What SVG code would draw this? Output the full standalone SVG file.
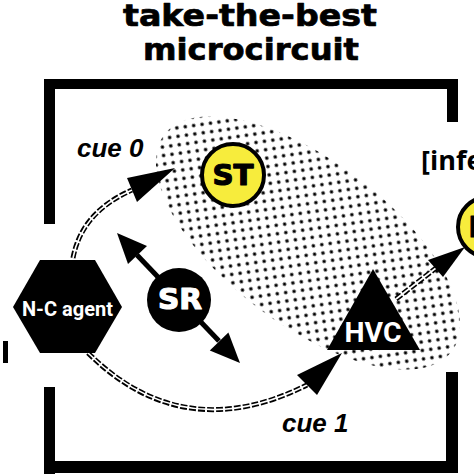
<svg xmlns="http://www.w3.org/2000/svg" width="474" height="474" viewBox="0 0 474 474">
  <defs>
    <pattern id="dots" width="12" height="12" patternUnits="userSpaceOnUse">
      <circle cx="2" cy="2" r="1.8" fill="#000"/>
      <circle cx="8" cy="8" r="1.8" fill="#000"/>
    </pattern>
    <style>
      .frame { fill: #000; }
      .title { font-family: "DejaVu Sans", sans-serif; font-weight: bold; font-size: 30px; fill: #000; stroke: #000; stroke-width: 0.7; stroke-linejoin: round; text-anchor: middle; }
      .cue { font-family: "Liberation Sans", Arial, sans-serif; font-weight: bold; font-style: italic; font-size: 26px; fill: #000; }
      .heavy { font-family: "DejaVu Sans", sans-serif; font-weight: bold; text-anchor: middle; stroke-width: 1.2; stroke-linejoin: round; }
      .rob { font-family: Roboto, "Liberation Sans", sans-serif; font-weight: bold; text-anchor: middle; fill: #fff; }
      .yellow { fill: #f7ec3c; stroke: #000; stroke-width: 4; }
      .dashout { fill: none; stroke: #000; stroke-width: 5; stroke-dasharray: 7 2; }
      .dashin { fill: none; stroke: #fff; stroke-width: 1.6; }
      .head { fill: #000; }
    </style>
  </defs>
  <rect width="474" height="474" fill="#fff"/>

  <g id="title">
    <text class="title" x="250" y="26" textLength="254" lengthAdjust="spacingAndGlyphs">take-the-best</text>
    <text class="title" x="251" y="60" textLength="216" lengthAdjust="spacingAndGlyphs">microcircuit</text>
  </g>

  <g id="frame">
    <rect class="frame" x="44" y="79" width="414" height="10"/>
    <rect class="frame" x="44" y="79" width="11" height="145"/>
    <rect class="frame" x="447" y="79" width="11" height="43"/>
    <rect class="frame" x="44" y="387" width="11" height="87"/>
    <rect class="frame" x="44" y="461" width="414" height="12"/>
    <rect class="frame" x="446" y="372" width="12" height="101"/>
    <rect class="frame" x="3" y="341" width="5" height="22"/>
  </g>

  <g id="halftone">
    <ellipse cx="308" cy="243" rx="180" ry="82" transform="rotate(37 308 243)" fill="url(#dots)"/>
  </g>

  <g id="labels">
    <text class="cue" x="77" y="157">cue 0</text>
    <text class="cue" x="282" y="432">cue 1</text>
    <text x="421" y="170" font-family="'Open Sans', 'DejaVu Sans', sans-serif" font-weight="bold" font-size="27" fill="#000">[inference]</text>
  </g>

  <g id="connectors">
    <path class="dashout" d="M73,258 Q81.5,212 132,190"/>
    <path class="dashin" d="M73,258 Q81.5,212 132,190"/>
    <polygon class="head" points="175,168 127,178 137,202"/>

    <path class="dashout" d="M88,353 Q183,447 307,385"/>
    <path class="dashin" d="M88,353 Q183,447 307,385"/>
    <polygon class="head" points="342,353 297,375 317,395"/>

    <path class="dashout" d="M396,299 L436,268"/>
    <path class="dashin" d="M396,299 L436,268"/>
    <polygon class="head" points="465,247 428,260 443,277"/>

    <line x1="137" y1="255" x2="219" y2="341" stroke="#000" stroke-width="5"/>
    <polygon class="head" points="117,233 147,246 128,264"/>
    <polygon class="head" points="240,363 228.4,332.5 209.8,350.6"/>
  </g>

  <g id="node-ST">
    <circle class="yellow" cx="233" cy="175" r="31"/>
    <text class="heavy" x="233" y="185" font-size="28" fill="#000" stroke="#000" textLength="41" lengthAdjust="spacingAndGlyphs">ST</text>
  </g>

  <g id="node-RA">
    <circle class="yellow" cx="488" cy="227" r="30"/>
    <text class="heavy" x="490" y="237" font-size="28" fill="#000" stroke="#000">RA</text>
  </g>

  <g id="node-SR">
    <circle cx="179" cy="300" r="32" fill="#000"/>
    <text class="heavy" x="180" y="309" font-size="28" fill="#fff" stroke="#fff" textLength="44" lengthAdjust="spacingAndGlyphs">SR</text>
  </g>

  <g id="node-HVC">
    <polygon points="373,269 327,350 420,350" fill="#000"/>
    <text class="rob" x="373" y="342" font-size="28" textLength="57" lengthAdjust="spacingAndGlyphs">HVC</text>
  </g>

  <g id="node-NC">
    <polygon points="40,260 95,260 122,307 95,353 40,353 13,307" fill="#000"/>
    <text class="rob" x="67.5" y="316" font-size="20" textLength="91" lengthAdjust="spacingAndGlyphs">N-C agent</text>
  </g>
</svg>
